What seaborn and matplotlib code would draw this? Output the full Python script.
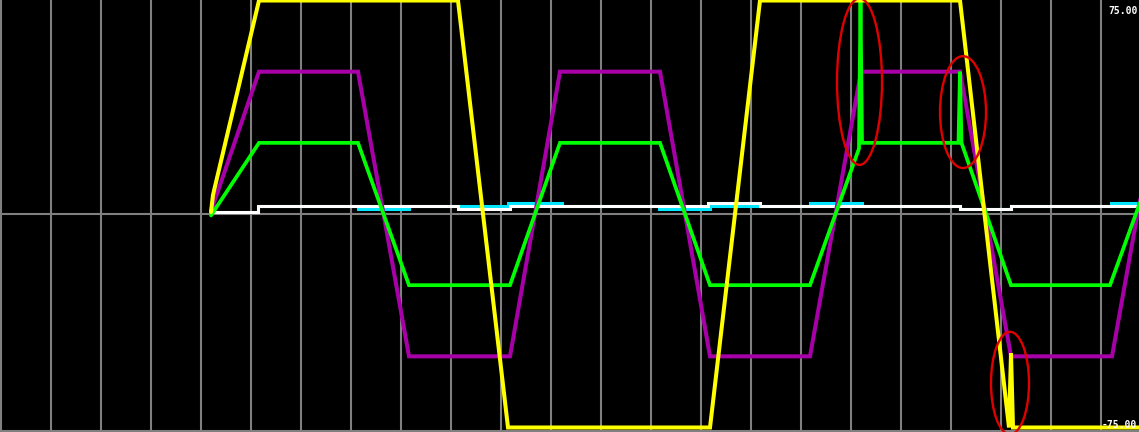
import numpy as np
import pandas as pd
import matplotlib
matplotlib.use("Agg")
import matplotlib.pyplot as plt
from matplotlib.patches import Ellipse
import seaborn as sns

# time in grid divisions, values in scope units (-75 .. 75)
PURPLE_T = [4.20, 5.16, 7.14, 8.16, 10.18, 11.18, 13.18, 14.18, 16.18, 17.20, 19.18, 20.20, 22.22, 22.78]
PURPLE_V = [1.0, 50, 50, -50, -50, 50, 50, -50, -50, 50, 50, -50, -50, 5.0]

GREEN_T = [4.20, 5.16, 7.14, 8.16, 10.18, 11.18, 13.18, 14.18, 16.18, 17.16, 17.19, 17.22,
           19.15, 19.18, 19.21, 20.20, 22.18, 22.78]
GREEN_V = [-0.5, 25, 25, -25, -25, 25, 25, -25, -25, 23, 75, 25, 25, 50, 25, -25, -25, 4.0]

YELLOW_T = [4.20, 4.24, 5.16, 9.14, 10.14, 14.18, 15.18, 19.18, 20.16, 20.20, 20.24, 22.78]
YELLOW_V = [0.7, 6.7, 75, 75, -75, -75, 75, 75, -75, -49, -75, -75]

WHITE_T = [4.20, 5.14, 9.14, 10.18, 14.14, 15.18, 19.18, 20.20, 22.78]
WHITE_V = [0.7, 2.8, 1.8, 2.8, 3.9, 2.8, 1.8, 2.8, 2.8]

CYAN_T = [5.16, 7.14, 8.16, 10.14, 11.22, 13.16, 14.18, 16.18, 17.22, 19.18, 20.20, 22.20, 22.78]
CYAN_V = [2.8, 1.8, 2.8, 3.9, 2.8, 1.8, 2.8, 3.9, 2.8, 1.8, 2.8, 3.9, 3.9]

# highlighted glitches: (t, v, width, height)
MARKS = [
    (17.17, 46.5, 0.90, 58.5),
    (19.24, 35.8, 0.92, 39.3),
    (20.18, -59.4, 0.76, 36.0),
]

Y_TOP, Y_BOT = 75.18, -76.58


def trace(ax, t, v, color, lw, z, **kw):
    df = pd.DataFrame({"t": t, "v": v})
    sns.lineplot(data=df, x="t", y="v", color=color, linewidth=lw, estimator=None,
                 sort=False, zorder=z, ax=ax, solid_joinstyle="miter", **kw)


def main():
    sns.set_theme(style="dark")
    plt.rcParams["font.family"] = ["DejaVu Sans Mono", "DejaVu Sans"]

    fig = plt.figure(figsize=(11.39, 4.32), dpi=100)
    fig.patch.set_facecolor("black")
    ax = fig.add_axes([0, 0, 1, 1])
    ax.set_facecolor("black")

    for k in range(23):
        ax.axvline(k, color="#808080", linewidth=1.5, zorder=1)
    ax.axhline(0, color="#808080", linewidth=1.5, zorder=1)
    ax.axhline(-76.1, color="#808080", linewidth=1.5, zorder=1)

    trace(ax, CYAN_T, CYAN_V, "#00e6ff", 2.2, 2, drawstyle="steps-post")
    trace(ax, WHITE_T, WHITE_V, "white", 2.2, 3, drawstyle="steps-post")
    trace(ax, PURPLE_T, PURPLE_V, "#a800a8", 2.9, 4)
    trace(ax, GREEN_T, GREEN_V, "#00ff00", 2.7, 5)
    trace(ax, YELLOW_T, YELLOW_V, "#ffff00", 2.9, 6)

    for t, v, w, h in MARKS:
        ax.add_patch(Ellipse((t, v), w, h, fill=False, edgecolor="#e00000",
                             linewidth=1.7, zorder=7))

    ax.set_xlim(-0.02, 22.76)
    ax.set_ylim(Y_BOT, Y_TOP)
    ax.set_xticks([])
    ax.set_yticks([])
    ax.set_xlabel("")
    ax.set_ylabel("")
    for s in ax.spines.values():
        s.set_visible(False)

    ax.text(0.9985, 0.985, "75.00", transform=ax.transAxes, ha="right", va="top",
            color="white", fontsize=7, fontweight="bold", zorder=8)
    ax.text(0.9985, 0.004, "-75.00", transform=ax.transAxes, ha="right", va="bottom",
            color="white", fontsize=7, fontweight="bold", zorder=8)

    fig.savefig("out.png", dpi=100, facecolor="black")
    plt.close(fig)


if __name__ == "__main__":
    main()
